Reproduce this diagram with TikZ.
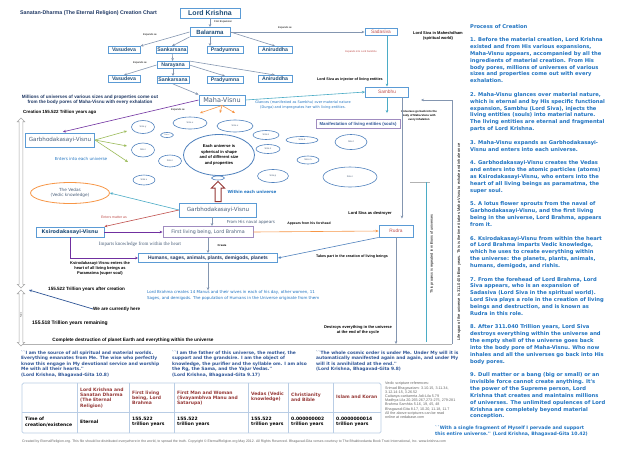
\documentclass[tikz,border=0pt]{standalone}
\usepackage{fontspec}
\setmainfont{Liberation Sans}
\newfontfamily\verdfont{DejaVu Sans}
\newfontfamily\timesfont{Liberation Serif}
\usetikzlibrary{arrows.meta,shapes.geometric,shapes.arrows,positioning}

\definecolor{navy}{HTML}{1F3864}
\definecolor{boxline}{HTML}{5B9BD5}
\definecolor{boxtext}{HTML}{1F4E79}
\definecolor{softtext}{HTML}{4A5F7A}
\definecolor{arrowgray}{HTML}{8496B0}
\definecolor{textblue}{HTML}{1F73C1}
\definecolor{quoteblue}{HTML}{2F5597}
\definecolor{purpleline}{HTML}{7030A0}
\definecolor{orangeline}{HTML}{F79646}
\definecolor{greenline}{HTML}{9BBB59}
\definecolor{cyanline}{HTML}{4BACC6}
\definecolor{redtext}{HTML}{C0504D}
\definecolor{maroon}{HTML}{953735}
\definecolor{ellblue}{HTML}{4F81BD}
\definecolor{lilac}{HTML}{A08CC0}
\definecolor{gridline}{HTML}{B9CDE5}

\newcommand\fsz[2]{\fontsize{#1}{#2}\selectfont}

\begin{document}
\begin{tikzpicture}[
        x=1pt, y=-1pt,
        >={Stealth[length=3pt,width=2.6pt]},
        box/.style={draw=boxline, line width=0.9pt, fill=white, inner sep=0pt, text=boxtext, font=\bfseries\fsz{5.2}{6}},
        redbox/.style={box, text=redtext, font=\fsz{4.8}{5.5}},
        softbox/.style={box, text=softtext, font=\verdfont\fsz{5.6}{6.5}},
        univ/.style={ellipse, draw=ellblue, line width=0.6pt, inner sep=0pt, text=softtext, font=\fsz{2.4}{3}},
        smalltxt/.style={inner sep=0pt, align=center, font=\bfseries\fsz{3.4}{4}},
        notetxt/.style={inner sep=0pt, align=center, font=\bfseries\fsz{4.6}{5.4}},
        bluetxt/.style={inner sep=0pt, align=left, text=textblue, font=\verdfont\fsz{3.8}{5}},
        quotetxt/.style={inner sep=0pt, align=left, anchor=base west, text=quoteblue, font=\verdfont\bfseries\fsz{4.4}{5.4}},
        link/.style={->, draw=arrowgray, line width=0.6pt},
        cell/.style={inner sep=0pt, anchor=west, align=left, font=\verdfont\bfseries\fsz{4.5}{5.2}},
        timespan/.style={double arrow, draw=gray!70, fill=white, line width=0.6pt, rotate=90, inner sep=1.6pt, minimum width=7pt, double arrow head extend=1.8pt},
    ]
    \useasboundingbox[fill=white] (0,0) rectangle (638,451);

    \node[anchor=west, inner sep=0pt, text=navy, font=\bfseries\fsz{5.3}{6}](title) at (20,13){Sanatan-Dharma (The Eternal Religion) Creation Chart};

    % spiritual world
    \node[box, minimum width=60, minimum height=10, font=\bfseries\fsz{7}{8}](krishna) at (210,13){Lord Krishna};
    \node[box, minimum width=40, minimum height=9, font=\bfseries\fsz{6}{7}](balarama) at (210,32){Balarama};
    \node[box, minimum width=32, minimum height=7](vasu1) at (124,50){Vasudeva};
    \node[box, minimum width=31, minimum height=7](sank1) at (172,50){Sankarsana};
    \node[box, minimum width=36, minimum height=7](prad1) at (225,50){Pradyumna};
    \node[box, minimum width=34, minimum height=7](anir1) at (275,50){Aniruddha};
    \node[box, minimum width=32, minimum height=7](narayana) at (173,65){Narayana};
    \node[box, minimum width=32, minimum height=7](vasu2) at (124,79){Vasudeva};
    \node[box, minimum width=32, minimum height=7](sank2) at (173,80){Sankarsana};
    \node[box, minimum width=36, minimum height=7](prad2) at (225,80){Pradyumna};
    \node[box, minimum width=34, minimum height=7](anir2) at (275,79){Aniruddha};
    \node[redbox, minimum width=32, minimum height=7](sadasiva) at (381,32){Sadasiva};
    \node[redbox, minimum width=43, minimum height=10](sambhu) at (387,92){Sambhu};
    \node[softbox, minimum width=46, minimum height=10, font=\verdfont\fsz{6.5}{7}](maha) at (222,100){Maha-Visnu};
    \node[box, draw=lilac, minimum width=84, minimum height=9, text=quoteblue, font=\bfseries\fsz{4.3}{5}](manif) at (358,124){Manifestation of living entities (souls)};

    \node[smalltxt, anchor=west, font=\fsz{2.6}{3}](firstexp) at (214,22){First Expansion};
    \node[smalltxt, font=\fsz{2.6}{3}](exp1) at (150,35){Expands as};
    \node[smalltxt, font=\fsz{2.6}{3}](exp2) at (140,63){Expands as};
    \node[smalltxt, font=\fsz{2.6}{3}](exp3) at (285,28){Expands as};
    \node[smalltxt, font=\fsz{2.6}{3}](exp4) at (178,110){Expands as};
    \node[smalltxt, text=redtext, font=\fsz{2.6}{3}](exp5) at (361,52){Expands into Lord Sambhu};
    \node[smalltxt, font=\bfseries\fsz{4}{5}](maheshdham) at (438,35.5){Lord Siva in Maheshdham\\(spiritual world)};
    \node[smalltxt, font=\bfseries\fsz{3.7}{4}](injector) at (350,80){Lord Siva as injector of living entities};
    \node[bluetxt, align=center, font=\verdfont\fsz{3.5}{5}](glances) at (303,105.5){Glances (manifested as Sambhu) over material nature\\(Durga) and impregnates her with living entities.};
    \node[smalltxt, font=\bfseries\fsz{2.8}{4}](goback) at (419,116){Universes go back into the\\body of Maha-Visnu with\\every inhalation};

    \draw[link] (krishna) to (balarama);
    \draw[link] (balarama.west) to (vasu1.north east);
    \draw[link] (balarama.south west) to (sank1.north);
    \draw[link] (balarama.south) to (balarama.south |- prad1.north);
    \draw[link] (balarama.east) to (anir1.north);
    \draw[link] (balarama.east) to (sadasiva.west);
    \draw[link] (sank1) to (narayana);
    \draw[link] (narayana.west) to (vasu2.north);
    \draw[link] (narayana.south) to (sank2.north);
    \draw[link] (narayana.east) to (prad2.north);
    \draw[link] (narayana.north east) to (anir2.north);
    \draw[link] (sank2.south) to (maha.north west);
    \draw[link, draw=cyanline] (sadasiva.south -| sambhu) to (sambhu.north);
    \draw[link, draw=cyanline] (maha.east) to (sambhu.west);
    \draw[link, draw=cyanline, shorten >=6pt] (sambhu.south) to (sambhu.south |- manif.north);

    % universes
    \node[notetxt, text=navy](millions) at (90,100){Millions of universes of various sizes and properties come out\\from the body pores of Maha-Visnu with every exhalation};
    \node[notetxt, anchor=west, font=\bfseries\fsz{4.45}{5}](creation) at (23,112){Creation 155.522 Trillion years ago};
    \node[softbox, minimum width=69, minimum height=14](garbho1) at (60,140){Garbhodakasayi-Visnu};
    \node[bluetxt, font=\verdfont\fsz{4.1}{5}](enters) at (81,159){Enters into each universe};

    \node[univ, minimum width=23, minimum height=13](u1) at (143,127){Size y};
    \node[univ, minimum width=34, minimum height=12](u2) at (190,123){Size x};
    \node[univ, minimum width=36, minimum height=12](u3) at (235,126){Size x};
    \node[univ, minimum width=13, minimum height=5, font=\fsz{1.8}{2}](u4) at (167,135){Size o};
    \node[univ, minimum width=26, minimum height=9](u5) at (266,135){Size n};
    \node[univ, minimum width=24, minimum height=9](u6) at (268,149){Size z};
    \node[univ, minimum width=32, minimum height=7](u7) at (302,140){Size k};
    \node[univ, minimum width=32, minimum height=15](u8) at (351,142){Size t};
    \node[univ, minimum width=22, minimum height=8](u9) at (308,160){Size m};
    \node[univ, minimum width=31, minimum height=13](u10) at (273,176){Size p};
    \node[univ, minimum width=54, minimum height=20](u11) at (350,177){Size r};
    \node[univ, minimum width=23, minimum height=14](u12) at (143,150){Size i};
    \node[univ, minimum width=23, minimum height=12](u13) at (170,161){Size r};
    \node[univ, minimum width=22, minimum height=10](u14) at (144,180){Size u};
    \node[univ, line width=0.8pt, minimum width=71, minimum height=41, text=black, align=center, font=\bfseries\fsz{4.1}{5.6}](each) at (219,155){Each universe is\\spherical in shape\\and of different size\\and properties};
    \node[univ, minimum width=13, minimum height=4](ours) at (218,178){};

    \coordinate (o1) at (200,113);
    \coordinate (o2) at (220,113);
    \coordinate (o3) at (235,113);
    \foreach \o in {o1,o2,o3}
        \draw[->, orangeline, line width=0.6pt] (maha.south) to (\o);
    \draw[->, purpleline, line width=0.6pt, shorten >=3pt] (maha.west) to (garbho1.north);
    \coordinate (g1) at (127,131);
    \coordinate (g2) at (127,146);
    \coordinate (g3) at (128,162);
    \foreach \g in {g1,g2,g3}
        \draw[->, greenline, line width=0.6pt] (garbho1.east) to (\g);

    % within each universe
    \node[single arrow, draw=maroon, fill=white, line width=1pt, rotate=90, minimum height=20, inner sep=2.5pt, single arrow head extend=3.5pt](lotus) at (218,193){};
    \node[bluetxt, font=\verdfont\bfseries\fsz{4.1}{5}](within) at (252,192){Within each universe};
    \node[softbox, minimum width=77, minimum height=14](garbho2) at (218,210){Garbhodakasayi-Visnu};
    \node[ellipse, draw=orangeline, line width=0.8pt, minimum width=79, minimum height=21, inner sep=0pt, align=center, text=softtext, font=\verdfont\fsz{4.2}{5.4}](vedas) at (70,193){The Vedas\\(Vedic knowledge)};
    \node[box, minimum width=68, minimum height=10, font=\verdfont\bfseries\fsz{5}{6}](ksiro) at (70,232){Ksirodakasayi-Visnu};
    \node[softbox, draw=lilac, minimum width=90, minimum height=11, font=\verdfont\fsz{4.8}{6}](first) at (208,232){First living being, Lord Brahma};
    \node[box, minimum width=139, minimum height=9, text=navy, font=\bfseries\fsz{4.9}{5.5}](humans) at (208,258){Humans, sages, animals, plants, demigods, planets};
    \node[redbox, minimum width=34, minimum height=12](rudra) at (396,231){Rudra};

    \node[smalltxt, text=redtext, font=\fsz{3.5}{4}](mattertxt) at (114,217){Enters matter as};
    \node[bluetxt, text=softtext, font=\verdfont\fsz{4.1}{5}](navaltxt) at (251,222){From His naval appears};
    \node[inner sep=0pt, text=softtext, font=\timesfont\fsz{5}{6}](imparts) at (140,244){Imparts knowledge from within the heart};
    \node[smalltxt, font=\bfseries\fsz{2.8}{3.4}](createtxt) at (222,246){Create};
    \node[smalltxt, font=\bfseries\fsz{4}{5}](paramatma) at (100,268){Ksirodakasayi-Visnu enters the\\heart of all living beings as\\Paramatma (super soul)};
    \node[smalltxt](forehead) at (309,224){Appears from his forehead};
    \node[smalltxt, font=\bfseries\fsz{3.65}{4}](takespart) at (352,257){Takes part in the creation of living beings};
    \node[smalltxt, font=\bfseries\fsz{4}{5}](destroyer) at (370,213){Lord Siva as destroyer};
    \node[smalltxt, font=\bfseries\fsz{4}{5}](destroys) at (358,330){Destroys everything in the universe\\at the end of the cycle};
    \node[bluetxt, anchor=base west, font=\verdfont\fsz{4}{6}](manus) at (147,299.5){Lord Brahma creates 14 Manus and their wives in each of his day, other women, 11\\Sages, and demigods. The population of Humans in the Universe originate from them};

    \draw[->, cyanline, line width=0.6pt] (garbho2.west) to (vedas.east);
    \draw[->, redtext, line width=0.6pt] (garbho2.west) to (ksiro.north east);
    \draw[link] ([xshift=-6pt]garbho2.south) to ([xshift=-6pt]garbho2.south |- first.north);
    \draw[->, purpleline, line width=0.6pt] (ksiro.east) to (first.west);
    \draw[->, purpleline, line width=0.6pt] (ksiro.south) |- (humans.west);
    \draw[link] (first.south) to (humans.north);
    \draw[link] (humans.south) to (humans.south |- manus.north);
    \draw[->, orangeline, line width=0.6pt] (first.east) to (rudra.west);
    \draw[->, ellblue, line width=0.6pt] (rudra.south west) to (humans.east);
    \draw[link, shorten >=6pt] ([xshift=-7pt]sambhu.south east) to ([xshift=-7pt]sambhu.south east |- rudra.north);

    % time line and end of the cycle
    \coordinate (dl) at (22,344);
    \coordinate (dr) at (452,344);
    \coordinate (tr) at (452,100);
    \coordinate (tl) at (421,100);
    \coordinate (c1) at (410,182);
    \coordinate (c2) at (430,182);
    \coordinate (c3) at (426,182);
    \coordinate (c4) at (426,342);
    \draw[link] (rudra.south) to (rudra.south |- dr);
    \draw[gray!60, line width=0.5pt] (dl) to (dr);
    \draw[link] (dr) -- (tr) -- (tl);
    \draw[gray!60, line width=0.5pt] (c1) to (c2);
    \draw[cyanline, line width=0.6pt] (c3) to (c4);
    \node[inner sep=0pt, rotate=90, font=\fsz{4}{4.5}](lifespan) at (459,242){Lifespan of the universe is 311.040 trillion years. This is the time it takes Maha-Visnu to exhale and inhale once};
    \node[inner sep=0pt, rotate=90, font=\fsz{3.7}{4}](repeated) at (432,254){This process is repeated in millions of universes};

    \node[timespan, minimum height=170](past) at (21,203){};
    \node[timespan, minimum height=56](future) at (21,318){};
    \node[inner sep=0pt, rotate=90, font=\fsz{1.8}{2}](futuretxt) at (21,315){Future};
    \node[notetxt, anchor=west](aftertxt) at (48,289){155.522 Trillion years after creation};
    \node[notetxt, anchor=west](here) at (93,309){We are currently here};
    \node[notetxt, anchor=west, font=\bfseries\fsz{5}{5.5}](remaining) at (32,323){155.518 Trillion years remaining};
    \node[notetxt, font=\bfseries\fsz{4.7}{5.5}](destruction) at (133,340.5){Complete destruction of planet Earth and everything within the universe};
    \coordinate (now) at (29,290);
    \draw[->, quoteblue, line width=0.7pt] (here.west) to (now);

    % quotes
    \node[quotetxt](quote1) at (21,376.1){``I am the source of all spiritual and material worlds.\\Everything emanates from Me. The wise who perfectly\\know this engage in My devotional service and worship\\Me with all their hearts.''\\(Lord Krishna, Bhagavad-Gita 10.8)};
    \node[quotetxt](quote2) at (172,376.1){``I am the father of this universe, the mother, the\\support and the grandsire. I am the object of\\knowledge, the purifier and the syllable om. I am also\\the Rg, the Sama, and the Yajur Vedas.''\\(Lord Krishna, Bhagavad-Gita 9.17)};
    \node[quotetxt](quote3) at (316,370.7){``The whole cosmic order is under Me. Under My will it is\\automatically manifested again and again, and under My\\will it is annihilated at the end.''\\(Lord Krishna, Bhagavad-Gita 9.8)};

    % table
    \draw[gridline, line width=0.7pt, rounded corners=1.5pt] (22,383) rectangle (381,433);
    \draw[gridline, line width=0.7pt] (22,412) -- (381,412);
    \foreach \cx in {77,129,174,248,288,333}
        \draw[gridline, line width=0.7pt] (\cx,383) -- (\cx,433);
    \node[cell, text=maroon](h2) at (80,398){Lord Krishna and\\Sanatan Dharma\\(The Eternal\\Religion)};
    \node[cell, text=maroon](h3) at (132,398){First living\\being, Lord\\Brahma};
    \node[cell, text=maroon](h4) at (177,398){First Man and Woman\\(Svayambhva Manu and\\Satarupa)};
    \node[cell, text=maroon](h5) at (251,397){Vedas (Vedic\\knowledge)};
    \node[cell, text=maroon](h6) at (291,397){Christianity\\and Bible};
    \node[cell, text=maroon](h7) at (336,397){Islam and Koran};
    \node[cell](r1) at (25,422){Time of\\creation/existence};
    \node[cell](r2) at (80,422){Eternal};
    \node[cell](r3) at (132,422){155.522\\trillion years};
    \node[cell](r4) at (177,422){155.522\\trillion years};
    \node[cell](r5) at (251,422){155.522\\trillion years};
    \node[cell](r6) at (291,422){0.000000002\\trillion years};
    \node[cell](r7) at (336,422){0.0000000014\\trillion years};

    \node[anchor=north west, inner sep=0pt, align=left, text=gray!80!black, font=\fsz{3.7}{4.2}](refs) at (385,382){Vedic scripture references:\\Srimad Bhagavatam: 3.10.15, 3.11.34,\\3.12.14-15, 3.26.52\\Caitanya-caritamrta Adi-Lila 5.79\\Madhya-Lila 20.265-267,273-275, 279-281\\Brahma Samhita 5.16, 19, 45, 48\\Bhagavad-Gita 8.17, 10.20, 11.18, 11.7\\All the above scriptures can be read\\online at vedabase.com};

    % process of creation
    \node[anchor=base west, inner sep=0pt, align=left, text=textblue, font=\verdfont\bfseries\fsz{5.2}{6.84}](process) at (470,417.9){Process of Creation\\[6.84pt]
    1. Before the material creation, Lord Krishna\\existed and from His various expansions,\\Maha-Visnu appears, accompanied by all the\\ingredients of material creation. From His\\body pores, millions of universes of various\\sizes and properties come out with every\\exhalation.\\[6.84pt]
    2. Maha-Visnu glances over material nature,\\which is eternal and by His specific functional\\expansion, Sambhu (Lord Siva), injects the\\living entities (souls) into material nature.\\The living entities are eternal and fragmental\\parts of Lord Krishna.\\[6.84pt]
    3. Maha-Visnu expands as Garbhodakasayi-\\Visnu and enters into each universe.\\[6.84pt]
    4. Garbhodakasayi-Visnu creates the Vedas\\and enters into the atomic particles (atoms)\\as Ksirodakasayi-Visnu, who enters into the\\heart of all living beings as paramatma, the\\super soul.\\[6.84pt]
    5. A lotus flower sprouts from the naval of\\Garbhodakasayi-Visnu, and the first living\\being in the universe, Lord Brahma, appears\\from it.\\[6.84pt]
    6. Ksirodakasayi-Visnu from within the heart\\of Lord Brahma imparts Vedic knowledge,\\which he uses to create everything within\\the universe: the planets, plants, animals,\\humans, demigods, and rishis.\\[6.84pt]
    7. From the forehead of Lord Brahma, Lord\\Siva appears, who is an expansion of\\Sadasiva (Lord Siva in the spiritual world).\\Lord Siva plays a role in the creation of living\\beings and destruction, and is known as\\Rudra in this role.\\[6.84pt]
    8. After 311.040 Trillion years, Lord Siva\\destroys everything within the universe and\\the empty shell of the universe goes back\\into the body pore of Maha-Visnu. Who now\\inhales and all the universes go back into His\\body pores.\\[6.84pt]
    9. Dull matter or a bang (big or small) or an\\invisible force cannot create anything. It's\\the power of the Supreme person, Lord\\Krishna that creates and maintains millions\\of universes. The unlimited opulences of Lord\\Krishna are completely beyond material\\conception.};
    \node[anchor=base west, inner sep=0pt, align=left, text=textblue, font=\verdfont\bfseries\fsz{4.6}{6.3}](fragment) at (435,435.8){``With a single fragment of Myself I pervade and support\\this entire universe.'' (Lord Krishna, Bhagavad-Gita 10.42)};

    \node[anchor=west, inner sep=0pt, text=gray!80!black, font=\fsz{3.5}{4}](footer) at (22,442){Created by EternalReligion.org. This file should be distributed everywhere in the world, to spread the truth. Copyright \copyright\ EternalReligion.org May 2012. All Rights Reserved. Bhagavad-Gita verses courtesy to The Bhaktivedanta Book Trust International, Inc. www.krishna.com};
\end{tikzpicture}
\end{document}
